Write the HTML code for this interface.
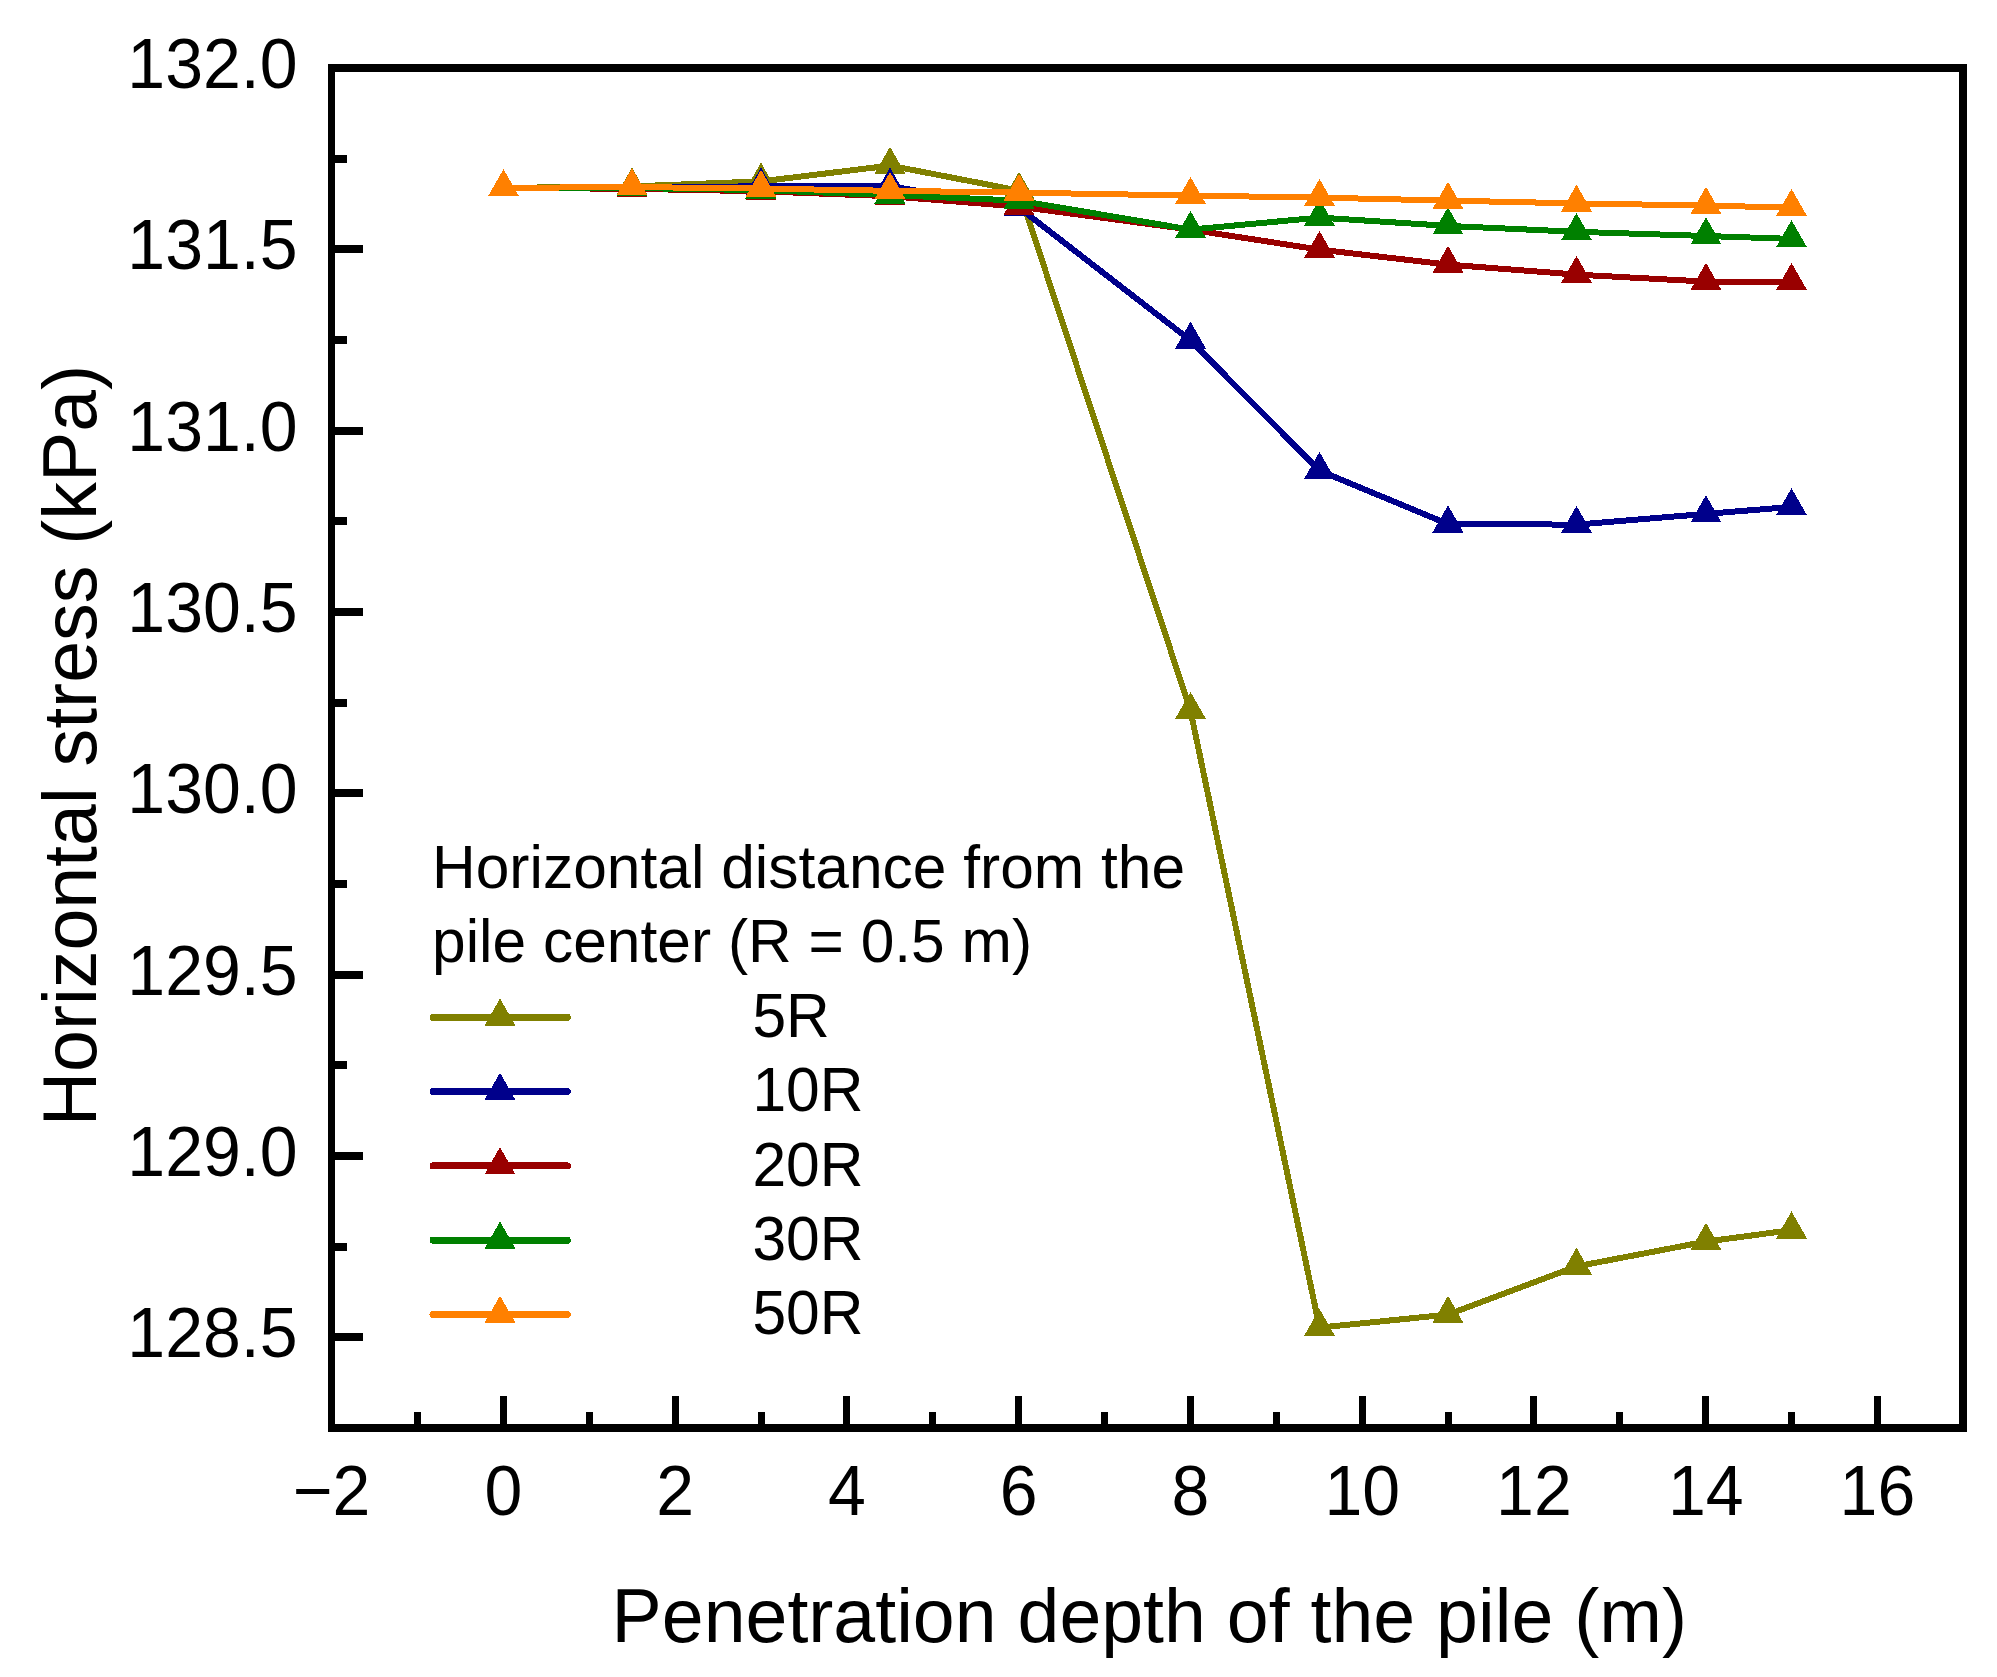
<!DOCTYPE html>
<html lang="en"><head><meta charset="utf-8">
<title>Horizontal stress vs penetration depth of the pile</title>
<style>
html,body{margin:0;padding:0;background:#fff;}
body{width:1997px;height:1677px;overflow:hidden;}
svg{display:block;}
text{font-family:"Liberation Sans", Arial, Helvetica, sans-serif;fill:#000;}
.tick{font-size:68px;}
.title{font-size:75.3px;}
.leg{font-size:60.5px;}
</style></head><body>
<svg width="1997" height="1677" viewBox="0 0 1997 1677">
<rect x="0" y="0" width="1997" height="1677" fill="#ffffff"/>
<g shape-rendering="crispEdges">
<g fill="#808000" stroke="none">
<polyline points="503.5,187.9 632.0,186.4 761.0,181.4 890.0,165.6 1019.0,190.6 1190.5,710.6 1319.5,1327.6 1448.0,1314.6 1576.5,1266.4 1706.0,1241.6 1791.5,1230.1" fill="none" stroke="#808000" stroke-width="6.0" stroke-linejoin="round" stroke-linecap="round"/>
<path d="M488.0 196.3L519.0 196.3L503.5 169.1ZM616.5 194.8L647.5 194.8L632.0 167.6ZM745.5 189.8L776.5 189.8L761.0 162.6ZM874.5 174.0L905.5 174.0L890.0 146.8ZM1003.5 199.0L1034.5 199.0L1019.0 171.8ZM1175.0 719.0L1206.0 719.0L1190.5 691.8ZM1304.0 1336.0L1335.0 1336.0L1319.5 1308.8ZM1432.5 1323.0L1463.5 1323.0L1448.0 1295.8ZM1561.0 1274.8L1592.0 1274.8L1576.5 1247.6ZM1690.5 1250.0L1721.5 1250.0L1706.0 1222.8ZM1776.0 1238.5L1807.0 1238.5L1791.5 1211.3Z"/>
</g>
<g fill="#00008b" stroke="none">
<polyline points="503.5,187.9 632.0,187.0 761.0,186.4 890.0,186.2 1019.0,207.6 1190.5,340.4 1319.5,470.6 1448.0,524.1 1576.5,524.6 1706.0,513.9 1791.5,506.9" fill="none" stroke="#00008b" stroke-width="6.0" stroke-linejoin="round" stroke-linecap="round"/>
<path d="M488.0 196.3L519.0 196.3L503.5 169.1ZM616.5 195.4L647.5 195.4L632.0 168.2ZM745.5 194.8L776.5 194.8L761.0 167.6ZM874.5 194.6L905.5 194.6L890.0 167.4ZM1003.5 216.0L1034.5 216.0L1019.0 188.8ZM1175.0 348.8L1206.0 348.8L1190.5 321.6ZM1304.0 479.0L1335.0 479.0L1319.5 451.8ZM1432.5 532.5L1463.5 532.5L1448.0 505.3ZM1561.0 533.0L1592.0 533.0L1576.5 505.8ZM1690.5 522.3L1721.5 522.3L1706.0 495.1ZM1776.0 515.3L1807.0 515.3L1791.5 488.1Z"/>
</g>
<g fill="#990000" stroke="none">
<polyline points="503.5,187.9 632.0,188.8 761.0,191.3 890.0,196.2 1019.0,206.6 1190.5,229.6 1319.5,249.6 1448.0,264.6 1576.5,274.6 1706.0,281.6 1791.5,281.6" fill="none" stroke="#990000" stroke-width="6.0" stroke-linejoin="round" stroke-linecap="round"/>
<path d="M488.0 196.3L519.0 196.3L503.5 169.1ZM616.5 197.2L647.5 197.2L632.0 170.0ZM745.5 199.7L776.5 199.7L761.0 172.5ZM874.5 204.6L905.5 204.6L890.0 177.4ZM1003.5 215.0L1034.5 215.0L1019.0 187.8ZM1175.0 238.0L1206.0 238.0L1190.5 210.8ZM1304.0 258.0L1335.0 258.0L1319.5 230.8ZM1432.5 273.0L1463.5 273.0L1448.0 245.8ZM1561.0 283.0L1592.0 283.0L1576.5 255.8ZM1690.5 290.0L1721.5 290.0L1706.0 262.8ZM1776.0 290.0L1807.0 290.0L1791.5 262.8Z"/>
</g>
<g fill="#008000" stroke="none">
<polyline points="503.5,187.9 632.0,188.0 761.0,190.1 890.0,195.1 1019.0,200.6 1190.5,229.6 1319.5,217.6 1448.0,225.9 1576.5,231.8 1706.0,236.0 1791.5,238.9" fill="none" stroke="#008000" stroke-width="6.0" stroke-linejoin="round" stroke-linecap="round"/>
<path d="M488.0 196.3L519.0 196.3L503.5 169.1ZM616.5 196.4L647.5 196.4L632.0 169.2ZM745.5 198.5L776.5 198.5L761.0 171.3ZM874.5 203.5L905.5 203.5L890.0 176.3ZM1003.5 209.0L1034.5 209.0L1019.0 181.8ZM1175.0 238.0L1206.0 238.0L1190.5 210.8ZM1304.0 226.0L1335.0 226.0L1319.5 198.8ZM1432.5 234.3L1463.5 234.3L1448.0 207.1ZM1561.0 240.2L1592.0 240.2L1576.5 213.0ZM1690.5 244.4L1721.5 244.4L1706.0 217.2ZM1776.0 247.3L1807.0 247.3L1791.5 220.1Z"/>
</g>
<g fill="#ff8000" stroke="none">
<polyline points="503.5,187.9 632.0,187.0 761.0,188.6 890.0,190.8 1019.0,192.6 1190.5,195.6 1319.5,197.6 1448.0,200.6 1576.5,203.4 1706.0,205.6 1791.5,207.6" fill="none" stroke="#ff8000" stroke-width="6.0" stroke-linejoin="round" stroke-linecap="round"/>
<path d="M488.0 196.3L519.0 196.3L503.5 169.1ZM616.5 195.4L647.5 195.4L632.0 168.2ZM745.5 197.0L776.5 197.0L761.0 169.8ZM874.5 199.2L905.5 199.2L890.0 172.0ZM1003.5 201.0L1034.5 201.0L1019.0 173.8ZM1175.0 204.0L1206.0 204.0L1190.5 176.8ZM1304.0 206.0L1335.0 206.0L1319.5 178.8ZM1432.5 209.0L1463.5 209.0L1448.0 181.8ZM1561.0 211.8L1592.0 211.8L1576.5 184.6ZM1690.5 214.0L1721.5 214.0L1706.0 186.8ZM1776.0 216.0L1807.0 216.0L1791.5 188.8Z"/>
</g>
</g>
<g fill="#000" shape-rendering="crispEdges">
<rect x="328" y="64" width="1639" height="8"/>
<rect x="328" y="1424" width="1639" height="8"/>
<rect x="328" y="64" width="7" height="1368"/>
<rect x="1959" y="64" width="8" height="1368"/>
<rect x="335" y="155" width="12" height="8"/>
<rect x="335" y="245" width="28" height="8"/>
<rect x="335" y="336" width="12" height="8"/>
<rect x="335" y="427" width="28" height="8"/>
<rect x="335" y="517" width="12" height="8"/>
<rect x="335" y="608" width="28" height="8"/>
<rect x="335" y="699" width="12" height="8"/>
<rect x="335" y="789" width="28" height="8"/>
<rect x="335" y="880" width="12" height="8"/>
<rect x="335" y="971" width="28" height="8"/>
<rect x="335" y="1061" width="12" height="8"/>
<rect x="335" y="1152" width="28" height="8"/>
<rect x="335" y="1243" width="12" height="8"/>
<rect x="335" y="1333" width="28" height="8"/>
<rect x="414" y="1412" width="7" height="12"/>
<rect x="500" y="1396" width="7" height="28"/>
<rect x="586" y="1412" width="7" height="12"/>
<rect x="672" y="1396" width="7" height="28"/>
<rect x="758" y="1412" width="7" height="12"/>
<rect x="843" y="1396" width="7" height="28"/>
<rect x="929" y="1412" width="7" height="12"/>
<rect x="1015" y="1396" width="7" height="28"/>
<rect x="1101" y="1412" width="7" height="12"/>
<rect x="1187" y="1396" width="7" height="28"/>
<rect x="1273" y="1412" width="7" height="12"/>
<rect x="1359" y="1396" width="7" height="28"/>
<rect x="1445" y="1412" width="7" height="12"/>
<rect x="1530" y="1396" width="7" height="28"/>
<rect x="1616" y="1412" width="7" height="12"/>
<rect x="1702" y="1396" width="7" height="28"/>
<rect x="1788" y="1412" width="7" height="12"/>
<rect x="1874" y="1396" width="7" height="28"/>
</g>
<g class="tick" text-anchor="end">
<text transform="translate(297.5 88.2) scale(1 1.04)">132.0</text>
<text transform="translate(297.5 269.2) scale(1 1.04)">131.5</text>
<text transform="translate(297.5 451.2) scale(1 1.04)">131.0</text>
<text transform="translate(297.5 632.2) scale(1 1.04)">130.5</text>
<text transform="translate(297.5 813.2) scale(1 1.04)">130.0</text>
<text transform="translate(297.5 995.2) scale(1 1.04)">129.5</text>
<text transform="translate(297.5 1176.2) scale(1 1.04)">129.0</text>
<text transform="translate(297.5 1357.2) scale(1 1.04)">128.5</text>
</g>
<g class="tick" text-anchor="middle">
<text transform="translate(331.6 1514.8) scale(1 1.04)">−2</text>
<text transform="translate(503.4 1514.8) scale(1 1.04)">0</text>
<text transform="translate(675.1 1514.8) scale(1 1.04)">2</text>
<text transform="translate(846.9 1514.8) scale(1 1.04)">4</text>
<text transform="translate(1018.6 1514.8) scale(1 1.04)">6</text>
<text transform="translate(1190.4 1514.8) scale(1 1.04)">8</text>
<text transform="translate(1362.2 1514.8) scale(1 1.04)">10</text>
<text transform="translate(1533.9 1514.8) scale(1 1.04)">12</text>
<text transform="translate(1705.7 1514.8) scale(1 1.04)">14</text>
<text transform="translate(1877.4 1514.8) scale(1 1.04)">16</text>
</g>
<text class="title" transform="translate(1149.3 1642.2) scale(1 1.005)" text-anchor="middle">Penetration depth of the pile (m)</text>
<text class="title" transform="translate(95.8 745.6) rotate(-90) scale(1 1.005)" text-anchor="middle">Horizontal stress (kPa)</text>
<g class="leg">
<text transform="translate(432 887.5) scale(1 1.005)">Horizontal distance from the</text>
<text transform="translate(432 961.8) scale(1 1.005)">pile center (R = 0.5 m)</text>
<g fill="#808000" shape-rendering="crispEdges"><line x1="433" y1="1017.3" x2="567.3" y2="1017.3" stroke="#808000" stroke-width="7" stroke-linecap="round"/><path d="M484.5 1025.7L515.5 1025.7L500.0 998.5Z"/></g>
<text transform="translate(752.4 1036.9) scale(1 1.04)">5R</text>
<g fill="#00008b" shape-rendering="crispEdges"><line x1="433" y1="1091.6" x2="567.3" y2="1091.6" stroke="#00008b" stroke-width="7" stroke-linecap="round"/><path d="M484.5 1100.0L515.5 1100.0L500.0 1072.8Z"/></g>
<text transform="translate(752.4 1111.2) scale(1 1.04)">10R</text>
<g fill="#990000" shape-rendering="crispEdges"><line x1="433" y1="1165.9" x2="567.3" y2="1165.9" stroke="#990000" stroke-width="7" stroke-linecap="round"/><path d="M484.5 1174.3L515.5 1174.3L500.0 1147.1Z"/></g>
<text transform="translate(752.4 1185.5) scale(1 1.04)">20R</text>
<g fill="#008000" shape-rendering="crispEdges"><line x1="433" y1="1240.2" x2="567.3" y2="1240.2" stroke="#008000" stroke-width="7" stroke-linecap="round"/><path d="M484.5 1248.6L515.5 1248.6L500.0 1221.4Z"/></g>
<text transform="translate(752.4 1259.8) scale(1 1.04)">30R</text>
<g fill="#ff8000" shape-rendering="crispEdges"><line x1="433" y1="1314.5" x2="567.3" y2="1314.5" stroke="#ff8000" stroke-width="7" stroke-linecap="round"/><path d="M484.5 1322.9L515.5 1322.9L500.0 1295.7Z"/></g>
<text transform="translate(752.4 1334.1) scale(1 1.04)">50R</text>
</g>
</svg>
</body></html>
